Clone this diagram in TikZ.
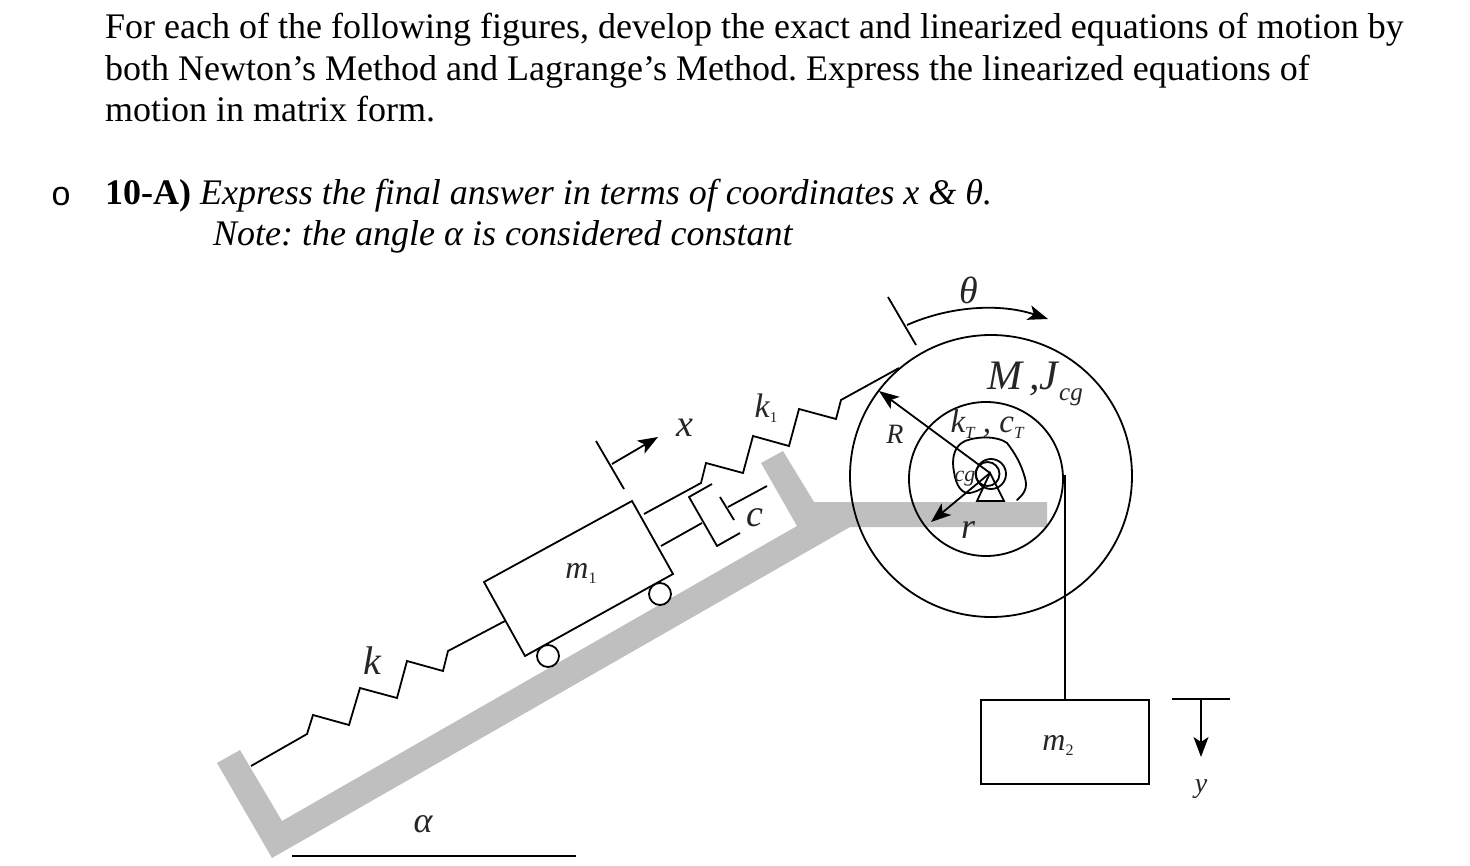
\documentclass[tikz,border=0pt]{standalone}
\usepackage{fontspec}
\setmainfont{Liberation Serif}
\newfontfamily\bulletfont{Liberation Sans}
\usetikzlibrary{arrows.meta}
\newcommand{\fsz}[1]{\fontsize{#1}{#1}\selectfont}
\newcommand{\lowered}[3]{\raisebox{-#1pt}{\fsz{#2}#3}}
\colorlet{labelink}{black!85}
\tikzset{
  body/.style={inner sep=0pt,anchor=base west,text=black,font=\fsz{36}},
  fig/.style={inner sep=0pt,anchor=center,text=labelink,font=\fsz{34}\itshape},
  wire/.style={draw=black,line width=1.8pt,line join=miter},
  wall/.style={fill=black!25,draw=none},
  tip/.style={-{Stealth[length=20pt,width=15pt,inset=5pt]}}
}
\begin{document}
\frenchspacing
\begin{tikzpicture}[x=1pt,y=-1pt]
\path[use as bounding box,fill=white] (0,0) rectangle (1470,866);
% text
\node[body] (t1) at (105,39) {For each of the following figures, develop the exact and linearized equations of motion by};
\node[body] (t2) at (105,80.5) {both Newton’s Method and Lagrange’s Method. Express the linearized equations of};
\node[body] (t3) at (105,122) {motion in matrix form.};
\node[inner sep=0pt,anchor=center,font=\bulletfont\fsz{34}] (bul) at (61,197) {o};
\node[body] (t4) at (105,205) {\textbf{10-A)} \textit{Express the final answer in terms of coordinates x \& θ.}};
\node[body] (t5) at (213,246) {\textit{Note: the angle α is considered constant}};
% ramp
\path[wall] (217,763) -- (240,750) -- (282,821) -- (797,526) -- (761,463) -- (783,451) -- (814,502) -- (1047,502) -- (1047,527) -- (850,527) -- (272,858) -- cycle;
% base line
\coordinate (b1) at (292,856); \coordinate (b2) at (576,856);
\draw[wire] (b1) -- (b2);
% spring k
\coordinate (kA) at (251,766); \coordinate (mL) at (505,621);
\draw[wire] (kA) -- (307,734) -- (313,715) -- (349,725) -- (360,688) -- (397,698) -- (407,661) -- (443,671) -- (448,651) -- (mL);
% mass
\draw[wire] (632,501) coordinate (m1) -- (484,582) -- (525,656) -- (673,574) -- cycle;
\draw[wire,fill=white] (548,656) circle (11);
\draw[wire,fill=white] (660,594) circle (11);
% spring k1
\coordinate (mU) at (644,514); \coordinate (tan) at (899,368);
\draw[wire] (mU) -- (701,483) -- (706,463) -- (743,473) -- (753,436) -- (789,446) -- (799,409) -- (836,419) -- (841,400) -- (tan);
% damper
\coordinate (mD) at (661,546); \coordinate (cupB) at (702,523);
\draw[wire] (mD) -- (cupB);
\draw[wire] (712,484) -- (689,497) -- (717,546) -- (740,533);
\draw[wire] (720,497) -- (734,520);
\coordinate (pist) at (728,507); \coordinate (wallC) at (767,486);
\draw[wire] (pist) -- (wallC);
% x
\coordinate (xT) at (612,464); \coordinate (xH) at (658,437);
\draw[wire] (596,441) -- (624,489);
\draw[wire,tip] (xT) -- (xH);
% disks
\node[circle,wire,minimum size=282pt,inner sep=0pt] (outer) at (991,476) {};
\node[circle,wire,minimum size=154pt,inner sep=0pt] (inner) at (986,479) {};
\node[circle,wire,minimum size=30pt,inner sep=0pt] (hub) at (991,474) {};
\node[circle,wire,minimum size=24pt,inner sep=0pt] (hubB) at (987.5,474) {};
\draw[wire] (990,473) coordinate (pin) -- (977,501) -- (1004,501) -- cycle;
% torsional spring
\draw[wire,line cap=round] (1017,500) .. controls (1024,494) and (1028,488) .. (1025,478) .. controls (1021,463) and (1014,452) .. (1007,443) .. controls (998,436) and (978,436) .. (965,441) .. controls (952,447) and (952,462) .. (954,472) .. controls (956,486) and (962,494) .. (970,493) .. controls (975,492) and (980,490) .. (984,487);
% radii
\coordinate (Rend) at (879,391); \coordinate (rend) at (931,522);
\draw[wire,tip] (pin) -- (Rend);
\draw[wire,tip] (pin) -- (rend);
% theta
\coordinate (thA) at (907,325); \coordinate (thB) at (1048,319);
\draw[wire] (888,297) -- (916,345);
\draw[wire,tip] (thA) .. controls (950,306) and (1000,303) .. (thB);
% rope and m2
\coordinate (ropeT) at (1065,475);
\node[wire,draw,minimum width=168pt,minimum height=84pt,inner sep=0pt] (m2box) at (1065,742) {};
\draw[wire] (ropeT) -- (1065,700);
% y
\coordinate (yT) at (1201,699); \coordinate (yH) at (1201,757);
\draw[wire] (1172,699) -- (1230,699);
\draw[wire,tip] (yT) -- (yH);
% labels
\node[fig,font=\fsz{38}\itshape] (lth) at (969,290) {θ};
\node[fig,font=\fsz{42}\itshape] (lMJ) at (1023,379) {M\,,J};
\node[fig,font=\fsz{25}\itshape] (lcg) at (1071,397) {cg};
\node[fig,font=\fsz{33}\itshape] (lkc) at (987,424) {k\lowered{6}{17}{T} , c\lowered{6}{17}{T}};
\node[fig,font=\fsz{28}] (lR) at (895,434) {\itshape R};
\node[fig,font=\fsz{36}\itshape] (lr) at (968,530) {r};
\node[fig,font=\fsz{22}\itshape] (lc2) at (965,479) {cg};
\node[fig] (lk1) at (766,408) {k\lowered{5}{15}{\upshape 1}};
\node[fig,font=\fsz{38}\itshape] (lx) at (685,428) {x};
\node[fig,font=\fsz{38}\itshape] (lc) at (755,518) {c};
\node[fig,font=\fsz{32}\itshape] (lm1) at (581,573) {m\lowered{5}{16}{\upshape 1}};
\node[fig,font=\fsz{40}\itshape] (lk) at (372,661) {k};
\node[fig,font=\fsz{36}\itshape] (la) at (423,824) {α};
\node[fig,font=\fsz{32}\itshape] (lm2) at (1058,745) {m\lowered{5}{16}{\upshape 2}};
\node[fig,font=\fsz{28}\itshape] (ly) at (1201,789) {y};
\end{tikzpicture}
\end{document}
